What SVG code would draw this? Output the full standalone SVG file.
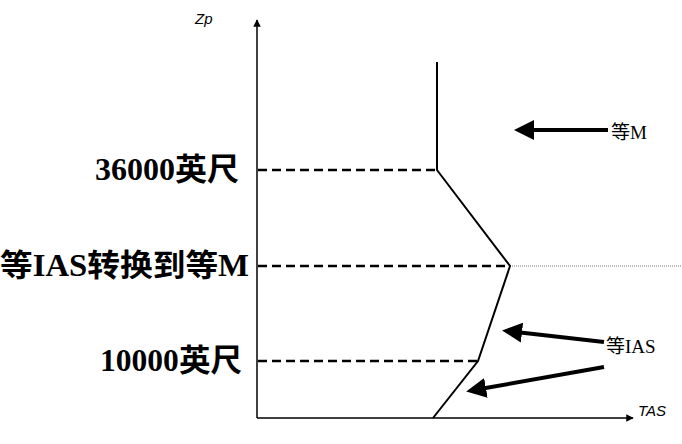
<svg xmlns="http://www.w3.org/2000/svg" width="682" height="444" viewBox="0 0 682 444">
<defs>
<marker id="ah" viewBox="0 0 10 10" refX="9" refY="5" markerWidth="5" markerHeight="5" orient="auto"><path d="M0,0 L10,5 L0,10 z" fill="#000"/></marker>
<marker id="ab" viewBox="0 0 10 10" refX="3" refY="5" markerWidth="5" markerHeight="5" orient="auto"><path d="M0,0 L10,5 L0,10 z" fill="#000"/></marker>
</defs>
<style>
.lab{font-family:"Liberation Serif","Noto Sans CJK SC",serif;font-weight:bold;font-size:31px;fill:#000}
.sm{font-family:"Liberation Serif","Noto Sans CJK SC",serif;font-size:19px;fill:#000}
.ax{font-family:"Liberation Sans",sans-serif;font-style:italic;font-size:15px;fill:#000}
.dash{stroke:#000;stroke-width:2.5;stroke-dasharray:9,5;fill:none}
.ln{stroke:#000;stroke-width:2;fill:none}
</style>
<rect width="682" height="444" fill="#fff"/>
<g id="axes">
<line x1="257" y1="418" x2="257" y2="20" stroke="#000" stroke-width="1.5" marker-end="url(#ah)"/>
<line x1="257" y1="418" x2="633" y2="418" stroke="#000" stroke-width="1.5" marker-end="url(#ah)"/>
<text class="ax" x="195" y="24">Zp</text>
<text class="ax" x="638" y="416">TAS</text>
</g>
<g id="labels">
<text class="lab" x="95" y="180" textLength="144" lengthAdjust="spacingAndGlyphs">36000英尺</text>
<text class="lab" x="0" y="276" textLength="249" lengthAdjust="spacingAndGlyphs">等IAS转换到等M</text>
<text class="lab" x="100" y="371" textLength="142" lengthAdjust="spacingAndGlyphs">10000英尺</text>
<text class="sm" x="611" y="139">等M</text>
<text class="sm" x="606" y="353">等IAS</text>
</g>
<g id="connectors">
<line class="dash" x1="258" y1="170" x2="437" y2="170"/>
<line class="dash" x1="258" y1="266" x2="509" y2="266"/>
<line class="dash" x1="258" y1="361" x2="478" y2="361"/>
<line x1="510" y1="266" x2="682" y2="266" stroke="#555" stroke-width="0.8" stroke-dasharray="1,1"/>
<polyline class="ln" points="437,62 437,170 510,266 478,361 433,418"/>
<line x1="608" y1="130" x2="528" y2="130" stroke="#000" stroke-width="4" marker-end="url(#ab)"/>
<line x1="604" y1="342" x2="516" y2="332" stroke="#000" stroke-width="4" marker-end="url(#ab)"/>
<line x1="604" y1="367" x2="480" y2="389" stroke="#000" stroke-width="4" marker-end="url(#ab)"/>
</g>
</svg>
